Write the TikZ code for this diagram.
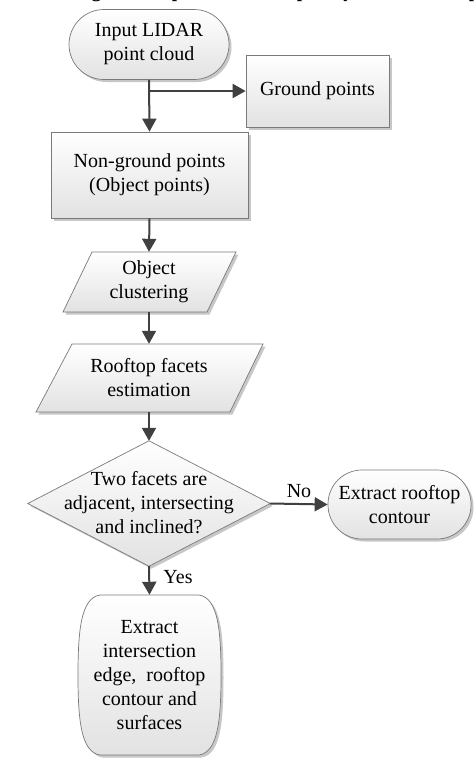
\documentclass[tikz,border=0pt]{standalone}
\usepackage{fontspec}
\setmainfont{Liberation Serif}
\usetikzlibrary{shadows,arrows.meta,calc}
\definecolor{bordergray}{HTML}{7A7A7A}
\definecolor{fillgray}{HTML}{E2E2E2}
\definecolor{arrowgray}{HTML}{404040}
\newcommand{\fsz}{\fontsize{20}{24}\selectfont}
\tikzset{
  shapebox/.style={draw=bordergray, line width=0.7pt, top color=white, bottom color=fillgray,
    drop shadow={shadow xshift=2.5pt, shadow yshift=-2.5pt, fill=black!22, opacity=1}},
  txt/.style={font=\fsz, align=center, inner sep=0pt},
  boxnode/.style={shapebox, txt},
  ghost/.style={draw=none, fill=none, inner sep=0pt},
  flow/.style={draw=arrowgray, line width=2pt, -{Triangle[length=13pt,width=14pt]}},
  lbl/.style={font=\fsz, inner sep=0pt}
}
\begin{document}
\begin{tikzpicture}[x=1pt,y=-1pt]
\useasboundingbox (0,0) rectangle (474,758);
\clip (0,0) rectangle (474,758);
\fill[white] (0,0) rectangle (474,758);
% clipped caption line at top
\node[anchor=base west, inner sep=0pt, font=\fontsize{19.5}{24}\selectfont\bfseries] (cap) at (-3,-3) {d decreasing the computational complexity. A Kd-tree repr};

% start terminator
\node[boxnode, rounded corners=35pt, minimum width=160pt, minimum height=70pt] (start) at (149,44.5) {Input LIDAR\\point cloud};
% ground points
\node[boxnode, minimum width=143pt, minimum height=72pt] (ground) at (317.5,91) {Ground points};
% non-ground
\node[boxnode, minimum width=197pt, minimum height=86pt] (nonground) at (149.5,175) {Non-ground points\\(Object points)};

% object clustering parallelogram
\path[shapebox] (92,252) -- (236,252) -- (207,312) -- (63,312) -- cycle;
\node[ghost, minimum width=100pt, minimum height=60pt] (cluster) at (149,282) {};
\node[txt] (clustertxt) at (149,282) {Object\\clustering};

% rooftop facets parallelogram
\path[shapebox] (72,344) -- (263,344) -- (230,412) -- (36,412) -- cycle;
\node[ghost, minimum width=150pt, minimum height=68pt] (facets) at (149,378) {};
\node[txt] (facetstxt) at (149,378) {Rooftop facets\\estimation};

% decision diamond
\node[ghost, minimum width=242pt, minimum height=125pt] (dec) at (149,503.5) {};
\path[shapebox] (dec.north) -- (dec.east) -- (dec.south) -- (dec.west) -- cycle;
\node[txt] (dectxt) at (149,503) {Two facets are\\adjacent, intersecting\\and inclined?};

% extract rooftop contour
\node[boxnode, rounded corners=34pt, minimum width=143pt, minimum height=69pt] (contour) at (399.5,504.5) {Extract rooftop\\contour};

% final node
\path[shapebox] (100,595) -- (199,595) .. controls (218,598) and (221,630) .. (221,675)
  .. controls (221,720) and (218,752) .. (199,755) -- (100,755)
  .. controls (81,752) and (78,720) .. (78,675) .. controls (78,630) and (81,598) .. (100,595) -- cycle;
\node[ghost, minimum width=143pt, minimum height=160pt] (final) at (149.5,675) {};
\node[txt] (finaltxt) at (149.5,675) {Extract\\intersection\\edge,\ \ rooftop\\contour and\\surfaces};

% connectors
\coordinate (br) at (start.south |- ground.west);
\draw[flow] (start.south) -- (nonground.north);
\draw[flow] (br) -- (ground.west);
\draw[flow] (nonground.south) -- (cluster.north);
\draw[flow] (cluster.south) -- (facets.north);
\draw[flow] (facets.south) -- (dec.north);
\draw[flow] (dec.east) -- (contour.west);
\draw[flow] (dec.south) -- (final.north);
\node[lbl] (no) at (299,491) {No};
\node[lbl] (yes) at (178,577) {Yes};
\end{tikzpicture}
\end{document}
